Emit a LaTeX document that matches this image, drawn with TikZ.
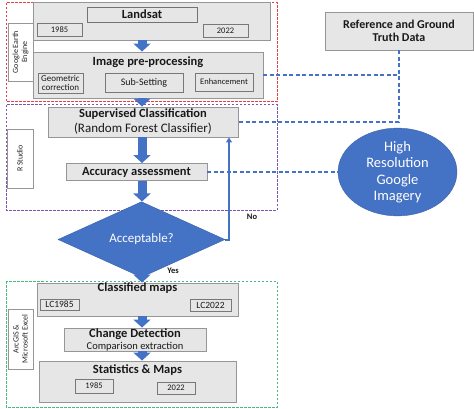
\documentclass[tikz,border=0pt]{standalone}
\usepackage{fontspec}
\setmainfont{Carlito}
\usetikzlibrary{shapes.geometric, arrows.meta}
\definecolor{boxgray}{RGB}{231,230,230}
\definecolor{edgegray}{RGB}{150,150,150}
\definecolor{flowblue}{RGB}{68,114,196}
\definecolor{geered}{RGB}{232,60,70}
\definecolor{rpurple}{RGB}{125,85,175}
\definecolor{arcgreen}{RGB}{70,185,125}
\tikzstyle{panel} = [rectangle, draw=edgegray, fill=boxgray, line width=0.9pt, inner sep=0, align=center, text=black!90]
\tikzstyle{tag} = [rectangle, draw=edgegray!80!black, fill=boxgray, line width=0.7pt, inner sep=0, align=center, text=black!90, font=\fontsize{8.5}{9}\selectfont]
\tikzstyle{head} = [text=black!90, font=\bfseries\fontsize{12.5}{14}\selectfont]
\tikzstyle{side} = [rectangle, draw=edgegray, fill=white, line width=0.7pt, rotate=90, inner sep=0, align=center, text=black!85, font=\fontsize{8}{9}\selectfont]
\tikzstyle{flow} = [flowblue, line width=9pt, -{Triangle[width=17pt,length=8pt]}]
\tikzstyle{link} = [flowblue, line width=1.2pt, dash pattern=on 4pt off 2.5pt]
\tikzstyle{zone} = [line width=1pt, dash pattern=on 2.5pt off 1.5pt]
\tikzstyle{answer} = [text=black!90, font=\bfseries\fontsize{8.5}{9}\selectfont]

\begin{document}
\begin{tikzpicture}[x=1pt, y=-1pt]
\useasboundingbox (0,0) rectangle (474,409);

% tool zones
\draw[zone, geered] (6,3) rectangle (277,102);
\draw[zone, rpurple] (6,105) rectangle (277,210);
\draw[zone, arcgreen] (6,281) rectangle (277,407);

\node[side, minimum width=58pt, minimum height=25pt] (gee) at (20.5,52) {Google Earth\\Engine};
\node[side, minimum width=59pt, minimum height=26pt] (rstudio) at (20,158.5) {R Studio};
\node[side, minimum width=60pt, minimum height=25pt] (arcgis) at (20.5,339) {ArcGIS \&\\Microsoft Excel};

\coordinate (axis) at (142,0);
\coordinate (nox) at (229,0);

% Landsat
\node[panel, minimum width=237pt, minimum height=38pt] (landsat) at (151.5,21) {};
\node[tag, draw=black!55, head, minimum width=110pt, minimum height=15pt] (landtitle) at (142,14.5) {Landsat};
\node[tag, minimum width=45pt, minimum height=13pt] (ls85) at (59.5,29.5) {1985};
\node[tag, minimum width=45pt, minimum height=13pt] (ls22) at (225.5,30.5) {2022};

% pre-processing
\node[panel, minimum width=230pt, minimum height=46pt] (preproc) at (148,75) {};
\node[head] (pretitle) at (148,62) {Image pre-processing};
\node[tag, minimum width=45pt, minimum height=20pt, font=\fontsize{9}{9.5}\selectfont] (geo) at (60.5,83) {Geometric\\correction};
\node[tag, minimum width=78pt, minimum height=19pt, font=\fontsize{10}{11}\selectfont] (subset) at (144,82.5) {Sub-Setting};
\node[tag, minimum width=58pt, minimum height=18pt] (enhance) at (224,82) {Enhancement};

% classification
\node[panel, minimum width=190pt, minimum height=30pt, font=\fontsize{13}{15}\selectfont] (superv) at (143,122) {{\bfseries\fontsize{12.5}{15}\selectfont Supervised Classification}\\(Random Forest Classifier)};
\node[panel, head, minimum width=141pt, minimum height=17pt] (accur) at (136.5,172) {Accuracy assessment};
\node[diamond, fill=flowblue, draw=flowblue!85!black, minimum width=167pt, minimum height=55pt, inner sep=0, text=white, font=\fontsize{13}{15}\selectfont] (accept) at (141.5,239.5) {Acceptable?};

% outputs
\node[panel, minimum width=201pt, minimum height=33pt] (classmaps) at (137.5,299.5) {};
\node[head] (classtitle) at (137.5,288) {Classified maps};
\node[tag, minimum width=39pt, minimum height=11pt, font=\fontsize{9.5}{10}\selectfont] (lc85) at (59.5,304.5) {LC1985};
\node[tag, minimum width=41pt, minimum height=12pt, font=\fontsize{9.5}{10}\selectfont] (lc22) at (210.5,305) {LC2022};
\node[panel, minimum width=142pt, minimum height=23pt, font=\fontsize{10.5}{12}\selectfont] (change) at (135,339.5) {{\bfseries\fontsize{12.5}{12}\selectfont Change Detection}\\Comparison extraction};
\node[panel, minimum width=197pt, minimum height=41pt] (stats) at (137.5,381.5) {};
\node[head] (stattitle) at (137.5,370) {Statistics \& Maps};
\node[tag, minimum width=38pt, minimum height=14pt] (st85) at (94,386) {1985};
\node[tag, minimum width=38pt, minimum height=12pt] (st22) at (176,388) {2022};

% reference data
\node[panel, minimum width=148pt, minimum height=38pt, font=\bfseries\fontsize{12}{13.5}\selectfont] (ref) at (399,31) {Reference and Ground\\Truth Data};
\node[ellipse, fill=flowblue, draw=flowblue!85!black, minimum width=119pt, minimum height=81pt, inner sep=0, align=center, text=white, font=\fontsize{14.5}{16.5}\selectfont] (hires) at (397.5,172) {High\\Resolution\\Google\\Imagery};

\foreach \a/\b in {landsat/preproc, preproc/superv, superv/accur, accur/accept, accept/classmaps, classmaps/change, change/stats}
	\draw[flow] (\a.south -| axis) -- (\b.north -| axis);

\draw[flowblue, line width=2pt, -{Triangle[width=6pt,length=5pt]}] (accept.east) -| (superv.south -| nox);
\node[answer] (no) at (252,217) {No};
\node[answer] (yes) at (173,271) {Yes};

\draw[link] (preproc.east) -- (preproc.east -| ref.south);
\draw[link] (ref.south) -- (ref.south |- superv.east) -- (superv.east);
\draw[link] (accur.east) -- (hires.west);
\end{tikzpicture}
\end{document}
